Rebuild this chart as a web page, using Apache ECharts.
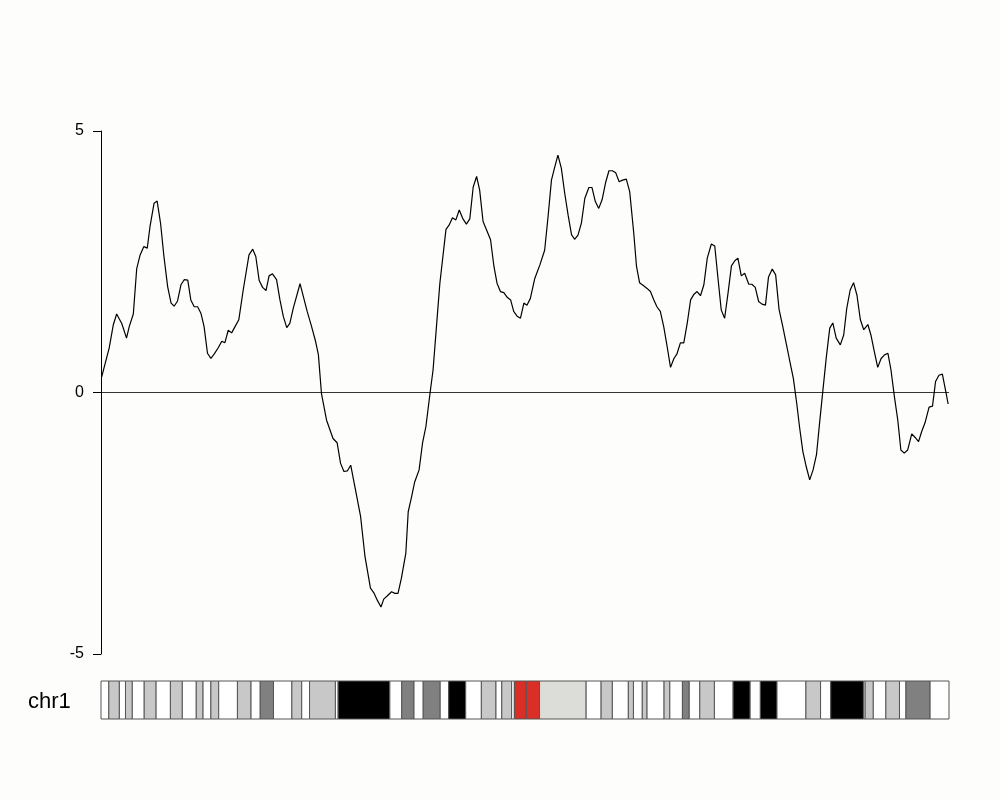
<!DOCTYPE html>
<html>
<head>
<meta charset="utf-8">
<script src="https://cdn.jsdelivr.net/npm/echarts@6/dist/echarts.min.js"></script>
<style>
html,body{margin:0;padding:0;background:#fdfdfb;}
#chart{width:1000px;height:800px;}
</style>
</head>
<body>
<div id="chart"></div>
<script>
// Genomic position (Mb) of each point on chr1
const positions = [0.2,2.4,3.6,4.6,6.1,7.5,8.3,9.5,10.5,11.5,12.6,13.6,14.4,15.6,16.5,17.5,18.5,19.6,20.6,21.5,
22.5,23.5,24.5,25.5,26.4,27.4,28.4,29.4,30.3,31.3,32.3,33.3,34.5,35.5,36.4,37.4,38.4,39.4,40.5,41.8,
43.5,44.6,45.5,46.5,47.5,48.5,49.4,50.4,51.6,52.6,53.6,54.6,55.5,56.5,58.5,60.6,61.9,63.1,63.9,64.8,
66.3,68.2,69.4,70.4,71.4,72.4,73.4,76.3,77.6,79.2,80.2,81.2,82.3,83.1,84.1,85.4,86.4,87.3,88.3,89.6,
90.3,91.3,92.2,93.5,94.5,95.5,96.7,97.6,98.6,99.6,101.4,102.3,103.3,104.3,105.3,106.3,107.4,108.4,109.4,110.4,
111.3,112.3,113.3,114.5,115.5,116.4,117.4,118.4,119.4,120.4,121.3,122.3,123.3,124.3,125.2,126.2,127.5,129.0,130.4,131.4,
132.4,133.4,134.3,135.3,136.3,137.3,138.3,139.2,140.2,141.2,142.2,143.4,144.3,145.3,146.3,147.3,148.3,149.3,150.3,151.3,
152.3,153.3,154.4,155.4,156.6,157.4,158.3,159.5,160.5,161.5,162.5,163.4,164.4,165.4,166.4,167.4,168.4,169.3,170.3,171.3,
172.3,173.3,174.3,175.2,176.2,177.2,178.2,179.4,180.4,181.4,182.3,183.3,184.3,185.3,186.3,187.2,188.2,189.2,190.4,191.3,
192.3,193.3,194.3,195.3,196.2,197.3,198.3,199.3,200.4,201.4,202.3,203.5,204.5,205.3,206.3,207.3,208.3,209.3,210.3,211.2,
212.2,213.2,214.2,215.1,216.1,217.3,218.3,219.2,220.2,221.2,222.2,223.2,224.2,225.4,226.3,227.3,228.3,229.3,230.3,231.3,
232.2,233.2,234.2,235.1,236.1,237.1,238.3,239.3,240.3,241.2,242.2,243.4,244.4,245.3,246.3,247.3,248.3,249.0];
// Log-ratio value at each position
const values = [0.30,0.85,1.29,1.50,1.32,1.04,1.26,1.50,2.37,2.63,2.79,2.76,3.17,3.62,3.66,3.24,2.60,2.02,1.71,1.65,
1.75,2.06,2.16,2.15,1.77,1.64,1.64,1.51,1.26,0.75,0.65,0.74,0.86,0.98,0.95,1.19,1.14,1.26,1.39,1.96,
2.63,2.74,2.60,2.14,2.01,1.95,2.23,2.27,2.16,1.77,1.45,1.24,1.32,1.61,2.08,1.55,1.26,0.97,0.72,-0.02,
-0.53,-0.88,-0.96,-1.35,-1.51,-1.50,-1.39,-2.37,-3.14,-3.74,-3.83,-3.97,-4.10,-3.95,-3.89,-3.81,-3.84,-3.84,-3.55,-3.07,
-2.28,-1.99,-1.71,-1.48,-0.97,-0.65,-0.02,0.43,1.26,2.09,3.12,3.20,3.34,3.30,3.49,3.33,3.22,3.32,3.93,4.13,
3.87,3.27,3.11,2.92,2.41,2.09,1.93,1.91,1.82,1.77,1.55,1.46,1.42,1.71,1.67,1.80,2.18,2.44,2.72,3.36,
4.06,4.32,4.54,4.29,3.81,3.39,3.02,2.93,3.01,3.24,3.71,3.92,3.92,3.65,3.52,3.69,4.01,4.24,4.24,4.20,
4.03,4.06,4.08,3.84,3.04,2.41,2.10,2.04,1.99,1.93,1.77,1.64,1.55,1.26,0.88,0.48,0.65,0.74,0.95,0.95,
1.32,1.77,1.88,1.93,1.85,2.06,2.57,2.84,2.80,2.15,1.58,1.42,1.90,2.42,2.52,2.57,2.23,2.28,2.07,2.07,
2.01,1.74,1.69,1.67,2.21,2.36,2.25,1.59,1.26,0.94,0.65,0.27,-0.21,-0.65,-1.13,-1.42,-1.67,-1.48,-1.19,-0.59,
0.05,0.68,1.23,1.33,1.04,0.91,1.10,1.61,1.96,2.10,1.86,1.39,1.20,1.30,1.10,0.78,0.48,0.65,0.72,0.75,
0.43,-0.08,-0.53,-1.10,-1.16,-1.10,-0.79,-0.86,-0.94,-0.75,-0.58,-0.28,-0.26,0.21,0.33,0.35,0.02,-0.22];

// Y-axis tick labels
const yTicks = [-5, 0, 5];

// Cytogenetic bands of chr1 (Mb)
const bandStarts = [0,2.3,5.4,7.2,9.2,12.7,16.2,20.4,23.9,28.0,30.0,32.3,34.6,40.1,44.1,46.8,50.7,56.1,59.0,61.3,68.9,69.7,84.9,88.4,92.0,94.7,99.7,102.2,107.2,111.8,116.1,117.8,120.7,121.5,125.0,128.9,142.6,147.0,150.3,155.0,156.5,159.1,160.5,165.5,167.2,170.9,172.9,176.0,180.3,185.8,190.8,193.8,198.7,207.2,211.5,214.5,224.1,224.6,227.0,230.7,234.7,236.6,243.7];
const bandEnds = [2.3,5.4,7.2,9.2,12.7,16.2,20.4,23.9,28.0,30.0,32.3,34.6,40.1,44.1,46.8,50.7,56.1,59.0,61.3,68.9,69.7,84.9,88.4,92.0,94.7,99.7,102.2,107.2,111.8,116.1,117.8,120.7,121.5,125.0,128.9,142.6,147.0,150.3,155.0,156.5,159.1,160.5,165.5,167.2,170.9,172.9,176.0,180.3,185.8,190.8,193.8,198.7,207.2,211.5,214.5,224.1,224.6,227.0,230.7,234.7,236.6,243.7,249.25];
const bandStains = ['gneg','gpos25','gneg','gpos25','gneg','gpos50','gneg','gpos25','gneg','gpos25','gneg','gpos25','gneg','gpos25','gneg','gpos75','gneg','gpos50','gneg','gpos50','gneg','gpos100','gneg','gpos75','gneg','gpos75','gneg','gpos100','gneg','gpos50','gneg','gpos50','gneg','acen','acen','gvar','gneg','gpos50','gneg','gpos50','gneg','gpos50','gneg','gpos50','gneg','gpos75','gneg','gpos50','gneg','gpos100','gneg','gpos100','gneg','gpos25','gneg','gpos100','gneg','gpos25','gneg','gpos50','gneg','gpos75','gneg'];
const chromName = 'chr1';
const chromLength = 249.25;

const stainColors = {gneg:'#ffffff', gpos25:'#c8c8c8', gpos50:'#c8c8c8', gpos75:'#808080', gpos100:'#000000', acen:'#d92f27', gvar:'#dcdcd8'};

const lineData = positions.map((p, i) => [p, values[i]]);
const bandData = bandStarts.map((s, i) => ({value: [s, bandEnds[i]], itemStyle: {color: stainColors[bandStains[i]]}}));

const chart = echarts.init(document.getElementById('chart'));
chart.setOption({
  backgroundColor: '#fdfdfb',
  animation: false,
  textStyle: {fontFamily: 'Liberation Sans, Arial, sans-serif'},
  grid: [
    {left: 101, top: 131, width: 848, height: 523},
    {left: 101, top: 681, width: 848, height: 38}
  ],
  xAxis: [
    {type: 'value', gridIndex: 0, min: 0, max: chromLength, show: false},
    {type: 'value', gridIndex: 1, min: 0, max: chromLength, show: false}
  ],
  yAxis: [
    {type: 'value', gridIndex: 0, min: yTicks[0], max: yTicks[yTicks.length - 1], interval: 5,
     axisLine: {show: true, lineStyle: {color: '#000', width: 1}},
     axisTick: {show: true, length: 8, lineStyle: {color: '#000', width: 1}},
     axisLabel: {color: '#000', fontSize: 16, margin: 17, fontFamily: 'Liberation Sans, Arial, sans-serif'},
     splitLine: {show: false}},
    {type: 'value', gridIndex: 1, min: 0, max: 1, show: false}
  ],
  graphic: [
    {type: 'text', left: 28, top: 691, style: {text: chromName, fontSize: 22, fill: '#000', fontFamily: 'Liberation Sans, Arial, sans-serif'}}
  ],
  series: [
    {
      type: 'line', xAxisIndex: 0, yAxisIndex: 0, data: lineData,
      showSymbol: false, symbol: 'none',
      lineStyle: {color: '#000', width: 1.2},
      markLine: {
        silent: true, symbol: 'none', label: {show: false},
        lineStyle: {color: '#000', width: 0.8, type: 'solid'},
        data: [{yAxis: 0}]
      }
    },
    {
      type: 'custom', xAxisIndex: 1, yAxisIndex: 1, data: bandData,
      renderItem: function (params, api) {
        const a = api.coord([api.value(0), 1]);
        const b = api.coord([api.value(1), 0]);
        return {
          type: 'rect',
          shape: {x: a[0], y: a[1], width: b[0] - a[0], height: b[1] - a[1]},
          style: {fill: api.visual('color'), stroke: '#555', lineWidth: 1}
        };
      }
    }
  ]
});
</script>
</body>
</html>
